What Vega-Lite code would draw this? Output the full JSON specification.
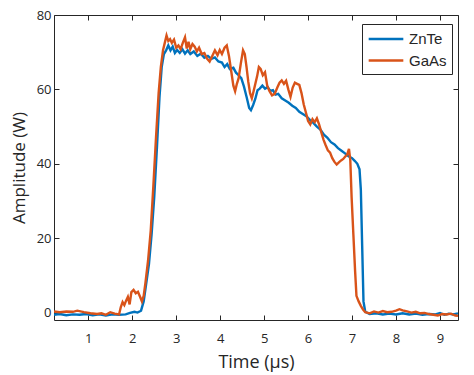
{
  "$schema": "https://vega.github.io/schema/vega-lite/v6.json",
  "autosize": "none",
  "width": 404,
  "height": 305,
  "padding": {"left": 54, "top": 15, "right": 16, "bottom": 55},
  "background": "white",
  "config": {
    "view": {"stroke": "#262626", "strokeWidth": 1},
    "axis": {"grid": false, "domain": false, "tickColor": "#262626", "labelColor": "#262626", "titleColor": "#262626", "labelFont": "Open Sans", "titleFont": "Open Sans", "titleFontWeight": "normal"}
  },
  "data": {"values": [
    {"s":"ZnTe","t":0.22,"a":-0.6},{"s":"ZnTe","t":0.35,"a":-0.4},{"s":"ZnTe","t":0.5,"a":-0.7},{"s":"ZnTe","t":0.65,"a":-0.5},{"s":"ZnTe","t":0.8,"a":-0.6},{"s":"ZnTe","t":0.95,"a":-0.4},{"s":"ZnTe","t":1.1,"a":-0.7},{"s":"ZnTe","t":1.25,"a":-0.5},{"s":"ZnTe","t":1.4,"a":-0.8},{"s":"ZnTe","t":1.55,"a":-0.5},{"s":"ZnTe","t":1.7,"a":-0.6},{"s":"ZnTe","t":1.85,"a":-0.5},{"s":"ZnTe","t":1.95,"a":-0.1},{"s":"ZnTe","t":2.05,"a":0.2},{"s":"ZnTe","t":2.12,"a":0.0},{"s":"ZnTe","t":2.2,"a":0.5},{"s":"ZnTe","t":2.26,"a":3},{"s":"ZnTe","t":2.32,"a":8},{"s":"ZnTe","t":2.38,"a":13},{"s":"ZnTe","t":2.44,"a":21},{"s":"ZnTe","t":2.5,"a":31},{"s":"ZnTe","t":2.56,"a":44},{"s":"ZnTe","t":2.62,"a":58},{"s":"ZnTe","t":2.67,"a":66},{"s":"ZnTe","t":2.72,"a":69.5},{"s":"ZnTe","t":2.77,"a":70.5},{"s":"ZnTe","t":2.82,"a":71.8},{"s":"ZnTe","t":2.87,"a":70.5},{"s":"ZnTe","t":2.92,"a":71.5},{"s":"ZnTe","t":2.97,"a":69.8},{"s":"ZnTe","t":3.02,"a":70.6},{"s":"ZnTe","t":3.08,"a":69.8},{"s":"ZnTe","t":3.14,"a":70.8},{"s":"ZnTe","t":3.2,"a":69.6},{"s":"ZnTe","t":3.26,"a":70.5},{"s":"ZnTe","t":3.32,"a":69.5},{"s":"ZnTe","t":3.4,"a":70.2},{"s":"ZnTe","t":3.48,"a":69},{"s":"ZnTe","t":3.56,"a":69.6},{"s":"ZnTe","t":3.64,"a":68.5},{"s":"ZnTe","t":3.72,"a":69},{"s":"ZnTe","t":3.8,"a":68.2},{"s":"ZnTe","t":3.88,"a":68.6},{"s":"ZnTe","t":3.96,"a":67.5},{"s":"ZnTe","t":4.04,"a":67.2},{"s":"ZnTe","t":4.1,"a":66},{"s":"ZnTe","t":4.16,"a":66.8},{"s":"ZnTe","t":4.22,"a":65.5},{"s":"ZnTe","t":4.3,"a":65.8},{"s":"ZnTe","t":4.36,"a":64.5},{"s":"ZnTe","t":4.42,"a":63.8},{"s":"ZnTe","t":4.48,"a":63},{"s":"ZnTe","t":4.54,"a":60.8},{"s":"ZnTe","t":4.6,"a":58},{"s":"ZnTe","t":4.66,"a":55},{"s":"ZnTe","t":4.7,"a":54.4},{"s":"ZnTe","t":4.75,"a":55.8},{"s":"ZnTe","t":4.8,"a":57.5},{"s":"ZnTe","t":4.85,"a":59.8},{"s":"ZnTe","t":4.9,"a":60.2},{"s":"ZnTe","t":4.96,"a":61},{"s":"ZnTe","t":5.02,"a":60.2},{"s":"ZnTe","t":5.08,"a":60.6},{"s":"ZnTe","t":5.14,"a":59.6},{"s":"ZnTe","t":5.2,"a":59.8},{"s":"ZnTe","t":5.26,"a":58.6},{"s":"ZnTe","t":5.32,"a":58.8},{"s":"ZnTe","t":5.4,"a":57.6},{"s":"ZnTe","t":5.48,"a":57},{"s":"ZnTe","t":5.56,"a":56.4},{"s":"ZnTe","t":5.64,"a":55.6},{"s":"ZnTe","t":5.72,"a":55},{"s":"ZnTe","t":5.8,"a":54},{"s":"ZnTe","t":5.88,"a":53.4},{"s":"ZnTe","t":5.96,"a":52.8},{"s":"ZnTe","t":6.04,"a":51.8},{"s":"ZnTe","t":6.12,"a":51},{"s":"ZnTe","t":6.2,"a":50},{"s":"ZnTe","t":6.28,"a":49.2},{"s":"ZnTe","t":6.36,"a":47.8},{"s":"ZnTe","t":6.44,"a":47},{"s":"ZnTe","t":6.52,"a":45.8},{"s":"ZnTe","t":6.6,"a":45.2},{"s":"ZnTe","t":6.68,"a":44.2},{"s":"ZnTe","t":6.76,"a":43.5},{"s":"ZnTe","t":6.84,"a":42.8},{"s":"ZnTe","t":6.92,"a":42},{"s":"ZnTe","t":7.0,"a":41.5},{"s":"ZnTe","t":7.06,"a":40.8},{"s":"ZnTe","t":7.12,"a":40},{"s":"ZnTe","t":7.17,"a":38.5},{"s":"ZnTe","t":7.2,"a":33},{"s":"ZnTe","t":7.23,"a":18},{"s":"ZnTe","t":7.26,"a":3},{"s":"ZnTe","t":7.3,"a":0.2},{"s":"ZnTe","t":7.4,"a":-0.4},{"s":"ZnTe","t":7.55,"a":-0.2},{"s":"ZnTe","t":7.7,"a":-0.5},{"s":"ZnTe","t":7.85,"a":-0.3},{"s":"ZnTe","t":8.0,"a":-0.5},{"s":"ZnTe","t":8.15,"a":-0.2},{"s":"ZnTe","t":8.3,"a":-0.5},{"s":"ZnTe","t":8.45,"a":-0.3},{"s":"ZnTe","t":8.6,"a":-0.6},{"s":"ZnTe","t":8.75,"a":-0.4},{"s":"ZnTe","t":8.9,"a":-0.5},{"s":"ZnTe","t":9.0,"a":-0.1},{"s":"ZnTe","t":9.1,"a":-0.6},{"s":"ZnTe","t":9.2,"a":-0.3},{"s":"ZnTe","t":9.3,"a":-0.5},{"s":"ZnTe","t":9.41,"a":-0.2},
    {"s":"GaAs","t":0.22,"a":0.3},{"s":"GaAs","t":0.35,"a":0.1},{"s":"GaAs","t":0.5,"a":0.3},{"s":"GaAs","t":0.65,"a":0.2},{"s":"GaAs","t":0.75,"a":0.5},{"s":"GaAs","t":0.9,"a":0.1},{"s":"GaAs","t":1.05,"a":-0.2},{"s":"GaAs","t":1.2,"a":-0.4},{"s":"GaAs","t":1.3,"a":-0.2},{"s":"GaAs","t":1.4,"a":-0.6},{"s":"GaAs","t":1.5,"a":0.1},{"s":"GaAs","t":1.6,"a":-0.3},{"s":"GaAs","t":1.7,"a":-0.5},{"s":"GaAs","t":1.74,"a":1.5},{"s":"GaAs","t":1.78,"a":2.8},{"s":"GaAs","t":1.82,"a":2.0},{"s":"GaAs","t":1.86,"a":3.2},{"s":"GaAs","t":1.9,"a":4.2},{"s":"GaAs","t":1.94,"a":2.2},{"s":"GaAs","t":1.98,"a":5.5},{"s":"GaAs","t":2.03,"a":6.1},{"s":"GaAs","t":2.08,"a":5.2},{"s":"GaAs","t":2.13,"a":5.6},{"s":"GaAs","t":2.18,"a":4.2},{"s":"GaAs","t":2.22,"a":3.0},{"s":"GaAs","t":2.26,"a":4.5},{"s":"GaAs","t":2.3,"a":8},{"s":"GaAs","t":2.36,"a":14},{"s":"GaAs","t":2.42,"a":22},{"s":"GaAs","t":2.48,"a":34},{"s":"GaAs","t":2.54,"a":47},{"s":"GaAs","t":2.6,"a":59},{"s":"GaAs","t":2.65,"a":66},{"s":"GaAs","t":2.7,"a":70.5},{"s":"GaAs","t":2.74,"a":72.5},{"s":"GaAs","t":2.78,"a":74.5},{"s":"GaAs","t":2.82,"a":73},{"s":"GaAs","t":2.86,"a":73.5},{"s":"GaAs","t":2.9,"a":72.5},{"s":"GaAs","t":2.95,"a":73.4},{"s":"GaAs","t":3.0,"a":71.2},{"s":"GaAs","t":3.05,"a":71.8},{"s":"GaAs","t":3.1,"a":70.8},{"s":"GaAs","t":3.15,"a":72.5},{"s":"GaAs","t":3.2,"a":74},{"s":"GaAs","t":3.24,"a":71},{"s":"GaAs","t":3.28,"a":72.8},{"s":"GaAs","t":3.32,"a":70.8},{"s":"GaAs","t":3.37,"a":72.2},{"s":"GaAs","t":3.42,"a":71.5},{"s":"GaAs","t":3.47,"a":70.2},{"s":"GaAs","t":3.52,"a":71.2},{"s":"GaAs","t":3.58,"a":69.5},{"s":"GaAs","t":3.64,"a":69.8},{"s":"GaAs","t":3.7,"a":68.3},{"s":"GaAs","t":3.76,"a":67.5},{"s":"GaAs","t":3.82,"a":69},{"s":"GaAs","t":3.88,"a":70.5},{"s":"GaAs","t":3.94,"a":69.2},{"s":"GaAs","t":3.99,"a":70.6},{"s":"GaAs","t":4.04,"a":69.5},{"s":"GaAs","t":4.1,"a":71.2},{"s":"GaAs","t":4.15,"a":71.8},{"s":"GaAs","t":4.2,"a":69},{"s":"GaAs","t":4.25,"a":65},{"s":"GaAs","t":4.3,"a":61},{"s":"GaAs","t":4.34,"a":59.5},{"s":"GaAs","t":4.38,"a":61.5},{"s":"GaAs","t":4.42,"a":63},{"s":"GaAs","t":4.47,"a":67},{"s":"GaAs","t":4.52,"a":70.5},{"s":"GaAs","t":4.56,"a":69.5},{"s":"GaAs","t":4.6,"a":66},{"s":"GaAs","t":4.64,"a":62},{"s":"GaAs","t":4.68,"a":59},{"s":"GaAs","t":4.72,"a":57.6},{"s":"GaAs","t":4.76,"a":59.5},{"s":"GaAs","t":4.8,"a":61.5},{"s":"GaAs","t":4.84,"a":63.5},{"s":"GaAs","t":4.88,"a":66},{"s":"GaAs","t":4.92,"a":65.5},{"s":"GaAs","t":4.97,"a":63.8},{"s":"GaAs","t":5.02,"a":64.6},{"s":"GaAs","t":5.07,"a":61},{"s":"GaAs","t":5.12,"a":59.6},{"s":"GaAs","t":5.18,"a":58.4},{"s":"GaAs","t":5.24,"a":58.8},{"s":"GaAs","t":5.3,"a":60.5},{"s":"GaAs","t":5.35,"a":61.8},{"s":"GaAs","t":5.4,"a":62.4},{"s":"GaAs","t":5.45,"a":61.5},{"s":"GaAs","t":5.5,"a":62.3},{"s":"GaAs","t":5.55,"a":60},{"s":"GaAs","t":5.6,"a":58},{"s":"GaAs","t":5.65,"a":60.5},{"s":"GaAs","t":5.7,"a":61.8},{"s":"GaAs","t":5.75,"a":61.5},{"s":"GaAs","t":5.8,"a":61.2},{"s":"GaAs","t":5.85,"a":59},{"s":"GaAs","t":5.9,"a":56},{"s":"GaAs","t":5.95,"a":53.8},{"s":"GaAs","t":6.0,"a":51.5},{"s":"GaAs","t":6.05,"a":50.6},{"s":"GaAs","t":6.1,"a":52},{"s":"GaAs","t":6.15,"a":51.2},{"s":"GaAs","t":6.2,"a":52.2},{"s":"GaAs","t":6.25,"a":50.6},{"s":"GaAs","t":6.3,"a":48.5},{"s":"GaAs","t":6.35,"a":46.5},{"s":"GaAs","t":6.4,"a":45},{"s":"GaAs","t":6.45,"a":43.6},{"s":"GaAs","t":6.5,"a":43},{"s":"GaAs","t":6.55,"a":41.5},{"s":"GaAs","t":6.6,"a":40.5},{"s":"GaAs","t":6.65,"a":39.8},{"s":"GaAs","t":6.7,"a":40.4},{"s":"GaAs","t":6.75,"a":40.9},{"s":"GaAs","t":6.8,"a":41.3},{"s":"GaAs","t":6.85,"a":42},{"s":"GaAs","t":6.89,"a":42.5},{"s":"GaAs","t":6.93,"a":44},{"s":"GaAs","t":6.96,"a":41},{"s":"GaAs","t":6.99,"a":31},{"s":"GaAs","t":7.03,"a":21},{"s":"GaAs","t":7.07,"a":11},{"s":"GaAs","t":7.1,"a":4.5},{"s":"GaAs","t":7.15,"a":3},{"s":"GaAs","t":7.2,"a":1.8},{"s":"GaAs","t":7.25,"a":0.8},{"s":"GaAs","t":7.3,"a":0.1},{"s":"GaAs","t":7.4,"a":-0.2},{"s":"GaAs","t":7.5,"a":0.3},{"s":"GaAs","t":7.6,"a":0.0},{"s":"GaAs","t":7.7,"a":0.4},{"s":"GaAs","t":7.8,"a":0.1},{"s":"GaAs","t":7.9,"a":0.2},{"s":"GaAs","t":8.0,"a":0.5},{"s":"GaAs","t":8.08,"a":0.9},{"s":"GaAs","t":8.15,"a":0.6},{"s":"GaAs","t":8.25,"a":0.3},{"s":"GaAs","t":8.35,"a":0.0},{"s":"GaAs","t":8.45,"a":0.2},{"s":"GaAs","t":8.55,"a":-0.2},{"s":"GaAs","t":8.65,"a":-0.1},{"s":"GaAs","t":8.75,"a":-0.4},{"s":"GaAs","t":8.85,"a":-0.6},{"s":"GaAs","t":8.95,"a":-0.8},{"s":"GaAs","t":9.05,"a":-0.4},{"s":"GaAs","t":9.15,"a":-0.5},{"s":"GaAs","t":9.25,"a":-0.3},{"s":"GaAs","t":9.35,"a":-0.8},{"s":"GaAs","t":9.41,"a":-0.9}
  ]},
  "resolve": {"axis": {"x": "independent", "y": "independent"}},
  "layer": [
    {
      "mark": {"type": "line", "strokeWidth": 2.4, "clip": true},
      "encoding": {
        "x": {"field": "t", "type": "quantitative", "scale": {"domain": [0.22, 9.41], "nice": false, "zero": false},
          "axis": {"orient": "bottom", "values": [1,2,3,4,5,6,7,8,9], "tickSize": -5, "labelPadding": 17, "labelFontSize": 13, "title": "Time (μs)", "titleFontSize": 18, "titlePadding": 8}},
        "y": {"field": "a", "type": "quantitative", "scale": {"domain": [-2, 80], "nice": false, "zero": false},
          "axis": {"orient": "left", "values": [0,20,40,60,80], "tickSize": -5, "labelPadding": 8, "labelFontSize": 13, "title": "Amplitude (W)", "titleFontSize": 17, "titlePadding": 8}},
        "color": {"field": "s", "type": "nominal", "sort": ["ZnTe", "GaAs"],
          "scale": {"domain": ["ZnTe", "GaAs"], "range": ["#0072BD", "#D95319"]},
          "legend": {"title": null, "orient": "none", "legendX": 308, "legendY": 9, "symbolType": "M-2,0L2,0", "symbolSize": 300, "symbolOffset": 9, "symbolStrokeWidth": 2.5, "labelFont": "Liberation Sans", "labelFontSize": 15, "labelColor": "#262626", "strokeColor": "#262626", "fillColor": "white", "padding": 5, "rowPadding": 3.5, "labelOffset": 13}},
        "order": {"field": "t", "type": "quantitative"}
      }
    },
    {
      "mark": {"type": "line", "opacity": 0},
      "encoding": {
        "x": {"field": "t", "type": "quantitative", "axis": {"orient": "top", "values": [1,2,3,4,5,6,7,8,9], "tickSize": -5, "labels": false, "title": null}},
        "y": {"field": "a", "type": "quantitative", "axis": {"orient": "right", "values": [0,20,40,60,80], "tickSize": -5, "labels": false, "title": null}}
      }
    }
  ]
}
